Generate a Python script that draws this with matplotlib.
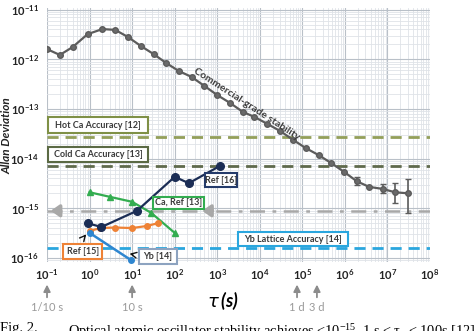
import numpy as np
import matplotlib
matplotlib.use('Agg')
import matplotlib.pyplot as plt
from matplotlib.ticker import LogLocator, FuncFormatter, NullFormatter
from matplotlib.patches import Rectangle

plt.rcParams['font.family'] = ['Lato', 'DejaVu Sans']

# commercial-grade stability (gray)
tau_com = [0.1, 0.2, 0.4, 0.9, 2, 4, 8, 16, 32, 63, 125, 250, 500, 1000, 2000,
           4000, 7500, 15000, 30000, 60000, 1.2e5, 2.4e5, 4.8e5, 9.6e5, 1.9e6,
           3.7e6, 7.8e6, 1.5e7, 3.1e7]
adev_com = [1.6e-12, 1.22e-12, 1.76e-12, 3.2e-12, 4.05e-12, 3.9e-12, 2.8e-12,
            1.85e-12, 1.27e-12, 8.4e-13, 5.8e-13, 4.4e-13, 2.9e-13, 1.9e-13,
            1.32e-13, 8.7e-14, 6.9e-14, 5.0e-14, 3.6e-14, 2.4e-14, 1.63e-14,
            1.18e-14, 8.1e-15, 5.4e-15, 3.5e-15, 2.7e-15, 2.45e-15, 2.1e-15, 2.0e-15]
err_lo = [0] * 24 + [0.5e-15, 0, 0.4e-15, 0.8e-15, 1.2e-15]
err_hi = [0] * 24 + [0.8e-15, 0, 0.65e-15, 1.1e-15, 1.9e-15]

tau_r16 = [0.9, 1.9, 13, 100, 215, 1150]
adev_r16 = [5.0e-16, 4.2e-16, 8.9e-16, 4.3e-15, 3.2e-15, 7.1e-15]

tau_ca = [1.0, 3, 10, 28, 100]
adev_ca = [2.1e-15, 1.7e-15, 1.35e-15, 8.1e-16, 3.2e-16]

tau_r15 = [1.0, 1.8, 4, 10, 22, 40]
adev_r15 = [3.5e-16, 4.0e-16, 4.1e-16, 4.0e-16, 4.4e-16, 5.0e-16]

tau_yb = [1.0, 9.5]
adev_yb = [3.2e-16, 9e-17]

hot_ca = 2.7e-14
cold_ca = 7.1e-15
ref_level = 8.9e-16
yb_lattice = 1.6e-16

marks = [(0.1, '1/10 s'), (10, '10 s'), (7.5e4, '1 d'), (2.2e5, '3 d')]

fig = plt.figure(figsize=(4.74, 3.31), dpi=100)
ax = fig.add_axes([0.0992, 0.2085, 0.808, 0.767])
ax.set_xscale('log')
ax.set_yscale('log')
ax.set_xlim(0.1, 1e8)
ax.set_ylim(8.3e-17, 1.07e-11)

ax.xaxis.set_major_locator(LogLocator(base=10, numticks=20))
ax.xaxis.set_minor_locator(LogLocator(base=10, subs=np.arange(2, 10), numticks=200))
ax.yaxis.set_major_locator(LogLocator(base=10, numticks=20))
ax.yaxis.set_minor_locator(LogLocator(base=10, subs=np.arange(2, 10), numticks=200))
fmt = FuncFormatter(lambda v, p: r'$\mathdefault{10^{%d}}$' % round(np.log10(v)))
ax.xaxis.set_major_formatter(fmt)
ax.yaxis.set_major_formatter(fmt)
ax.xaxis.set_minor_formatter(NullFormatter())
ax.yaxis.set_minor_formatter(NullFormatter())
ax.tick_params(which='both', length=0)
ax.tick_params(axis='x', pad=4, labelsize=8)
ax.tick_params(axis='y', pad=6, labelsize=8)
for lab in ax.get_xticklabels() + ax.get_yticklabels():
    lab.set_fontweight('bold')
    lab.set_color('#222222')
for s in ax.spines.values():
    s.set_visible(False)
ax.grid(True, which='major', color='#b9c0c8', lw=0.8)
ax.grid(True, which='minor', color='#dfe3e8', lw=0.6)
ax.set_axisbelow(True)

# accuracy levels
ax.axhline(hot_ca, color='#939f5a', lw=2, dashes=(4, 2.5))
ax.axhline(cold_ca, color='#5f6a4c', lw=2, dashes=(4, 2.5))
ax.axhline(ref_level, color='#a8a8a8', lw=1.8, dashes=(6, 3, 1.5, 3))
ax.axhline(yb_lattice, color='#2aa6de', lw=2, dashes=(4, 2.5))
arr = dict(arrowstyle='-|>,head_width=0.35,head_length=0.5', lw=2.5, color='#a8a8a8')
ax.annotate('', xy=(0.105, ref_level), xytext=(0.2, ref_level), arrowprops=arr)
ax.annotate('', xy=(380, ref_level), xytext=(900, ref_level), arrowprops=arr)

# series
ax.errorbar(tau_com, adev_com, yerr=[err_lo, err_hi], color='#5c5c5c', lw=1.6,
            marker='o', ms=4, mfc='#6a6a6a', mec='#5c5c5c', ecolor='#5c5c5c',
            elinewidth=1.2, capsize=2, zorder=4)
ax.plot(tau_ca, adev_ca, color='#33ad50', lw=1.6, marker='^', ms=4.5, zorder=4)
ax.plot(tau_r15, adev_r15, color='#ee8236', lw=1.6, marker='o', ms=4, zorder=4)
ax.plot(tau_yb, adev_yb, color='#2e86d0', lw=1.8, marker='o', ms=4, zorder=9,
        clip_on=False)
ax.plot(tau_r16, adev_r16, color='#1b2d55', lw=1.6, marker='o', ms=5.5, zorder=6)

ax.text(5000, 1.25e-13, 'Commercial-grade stability', rotation=-33,
        rotation_mode='anchor', ha='center', va='center', fontsize=7.5,
        fontweight='bold', color='#3a3a3a', zorder=7)

def box(x0, y0, x1, y1, text, color):
    ax.add_patch(Rectangle((x0, y0), x1 - x0, y1 - y0, transform=ax.transAxes,
                           facecolor='white', edgecolor=color, lw=1.5,
                           clip_on=False, zorder=8))
    ax.text((x0 + x1) / 2, (y0 + y1) / 2, text, transform=ax.transAxes,
            ha='center', va='center', fontsize=6.5, fontweight='bold',
            color='#3a3a3a', zorder=9)

box(0.003, 0.508, 0.264, 0.571, 'Hot Ca Accuracy [12]', '#7f9046')
box(0.003, 0.394, 0.264, 0.453, 'Cold Ca Accuracy [13]', '#5b6a44')
box(0.413, 0.295, 0.496, 0.350, 'Ref [16]', '#243b6b')
box(0.277, 0.209, 0.410, 0.256, 'Ca, Ref [13]', '#33ad50')
box(0.042, 0.012, 0.144, 0.071, 'Ref [15]', '#ee8236')
box(0.240, -0.008, 0.339, 0.051, 'Yb [14]', '#8da3c0')
box(0.499, 0.063, 0.786, 0.118, 'Yb Lattice Accuracy [14]', '#2aa6de')

small = dict(arrowstyle='->', lw=1, color='#111111')
ax.annotate('', xy=(0.92, 3.3e-16), xytext=(0.7, 2.5e-16), arrowprops=small, zorder=9)
ax.annotate('', xy=(7.5, 1.25e-16), xytext=(12, 1.15e-16), arrowprops=small, zorder=9)

# time markers under the axis
trans = ax.get_xaxis_transform()
for t, lab in marks:
    ax.annotate('', xy=(t, -0.078), xytext=(t, -0.15), xycoords=trans,
                textcoords=trans,
                arrowprops=dict(arrowstyle='-|>,head_width=0.2,head_length=0.4',
                                lw=1.3, color='#8c8c8c'))
    ax.text(t, -0.18, lab, transform=trans, ha='center', va='center',
            fontsize=8, color='#9a9a9a')

ax.set_xlabel(r'$\tau\,$(s)', fontsize=13, fontweight='bold', fontstyle='italic',
              labelpad=0)
ax.xaxis.set_label_coords(0.46, -0.105)
ax.set_ylabel('Allan Deviation', fontsize=8.5, fontweight='bold', fontstyle='italic',
              color='#222222')
ax.yaxis.set_label_coords(-0.089, 0.496)

serif = ['Liberation Serif', 'DejaVu Serif']
fig.text(0.0, 0.028, 'Fig. 2.', family=serif, fontsize=10.5, va='top', ha='left')
fig.text(68 / 474, 0.028,
         'Optical atomic oscillator stability achieves \u226410$^{\\mathdefault{-15}}$, '
         '1 s \u2264 \u03c4$_{\\mathdefault{c}}$ \u2264 100s [12]',
         family=serif, fontsize=10.4, va='top', ha='left')

fig.savefig('out.png', dpi=100)
